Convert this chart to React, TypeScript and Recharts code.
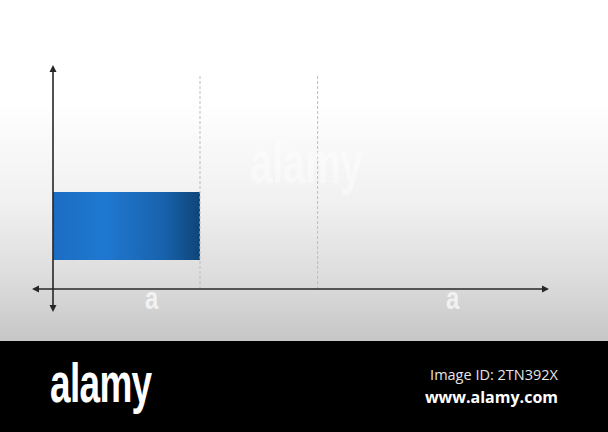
import React from 'react';
import { ComposedChart, Bar, XAxis, YAxis, ReferenceLine } from 'recharts';

// ---- data ----
const categories = ['A'];
const barValues = [30];
const gridValues = [30, 54];
const X_MAX = 100;

const data = categories.map((c, i) => ({ name: c, value: barValues[i] }));

// ---- layout ----
const W = 608;
const H = 341;
const MARGIN = { top: 75, right: 65, bottom: 52, left: 53 };
const PLOT_RIGHT = W - MARGIN.right;
const AXIS_COLOR = '#262626';

function AxesShape(props: any) {
  const { x1, y1, y2 } = props;
  const x = x1;
  const top = Math.min(y1, y2);
  const bottom = Math.max(y1, y2);
  const yTopTip = top - 10;
  const yBotTip = bottom + 23;
  const xLeftTip = x - 21;
  const xRightTip = PLOT_RIGHT + 6;
  const a = 7;
  const h = 3.5;
  return (
    <g>
      <line x1={x} y1={yTopTip + 4} x2={x} y2={yBotTip - 4} stroke={AXIS_COLOR} strokeWidth={1.6} />
      <polygon points={`${x},${yTopTip} ${x - h},${yTopTip + a} ${x + h},${yTopTip + a}`} fill={AXIS_COLOR} />
      <polygon points={`${x},${yBotTip} ${x - h},${yBotTip - a} ${x + h},${yBotTip - a}`} fill={AXIS_COLOR} />
      <line x1={xLeftTip + 4} y1={bottom} x2={xRightTip - 4} y2={bottom} stroke={AXIS_COLOR} strokeWidth={1.6} />
      <polygon points={`${xLeftTip},${bottom} ${xLeftTip + a},${bottom - h} ${xLeftTip + a},${bottom + h}`} fill={AXIS_COLOR} />
      <polygon points={`${xRightTip},${bottom} ${xRightTip - a},${bottom - h} ${xRightTip - a},${bottom + h}`} fill={AXIS_COLOR} />
    </g>
  );
}

const condensed: React.CSSProperties = {
  fontFamily: "'Liberation Sans', 'DejaVu Sans', sans-serif",
  fontWeight: 700,
  transformOrigin: 'left top',
  whiteSpace: 'nowrap',
};

export default function App() {
  return (
    <div style={{ position: 'absolute', left: 0, top: 0, width: 608, height: 432, overflow: 'hidden', fontFamily: "'DejaVu Sans', sans-serif" }}>
      <div
        style={{
          position: 'absolute',
          left: 0,
          top: 0,
          width: W,
          height: H,
          background: 'linear-gradient(to bottom, #ffffff 0px, #ffffff 100px, #f1f1f1 200px, #dcdcdc 280px, #c6c6c6 341px)',
        }}
      />
      <div style={{ position: 'absolute', left: 0, top: 0 }}>
        <ComposedChart width={W} height={H} data={data} layout="vertical" margin={MARGIN}>
          <defs>
            <linearGradient id="barGrad" x1="0" y1="0" x2="1" y2="0">
              <stop offset="0%" stopColor="#1b6dc2" />
              <stop offset="35%" stopColor="#1f78d0" />
              <stop offset="75%" stopColor="#1862ad" />
              <stop offset="100%" stopColor="#0f4578" />
            </linearGradient>
          </defs>
          <XAxis type="number" domain={[0, X_MAX]} hide />
          <YAxis type="category" dataKey="name" hide padding={{ top: 101, bottom: 13 }} />
          {gridValues.map((v) => (
            <ReferenceLine key={v} x={v} stroke="#bdbdbd" strokeDasharray="3 2" strokeWidth={1} />
          ))}
          <Bar dataKey="value" fill="url(#barGrad)" barSize={68} isAnimationActive={false} />
          <ReferenceLine x={0} shape={AxesShape} />
        </ComposedChart>
      </div>
      {/* faint watermark */}
      <div style={{ ...condensed, position: 'absolute', left: 250, top: 128, fontSize: 60, color: '#ffffff', opacity: 0.45, transform: 'scaleX(0.68)', letterSpacing: -1 }}>alamy</div>
      <div style={{ ...condensed, position: 'absolute', left: 145, top: 280, fontSize: 32, color: '#ffffff', opacity: 0.7, transform: 'scaleX(0.75)' }}>a</div>
      <div style={{ ...condensed, position: 'absolute', left: 446, top: 280, fontSize: 32, color: '#ffffff', opacity: 0.7, transform: 'scaleX(0.75)' }}>a</div>
      {/* bottom band */}
      <div style={{ position: 'absolute', left: 0, top: H, width: 608, height: 432 - H, background: '#000000' }}>
        <div style={{ ...condensed, position: 'absolute', left: 50, top: 9, fontSize: 56, color: '#ffffff', letterSpacing: -1, transform: 'scaleX(0.66)' }}>alamy</div>
        <div style={{ position: 'absolute', right: 50, top: 24, fontFamily: "'Open Sans', 'DejaVu Sans', sans-serif", fontSize: 14.5, color: '#e6e6e6' }}>Image ID: 2TN392X</div>
        <div style={{ position: 'absolute', right: 50, top: 45, fontFamily: "'Open Sans', 'DejaVu Sans', sans-serif", fontWeight: 700, fontSize: 16, color: '#ffffff' }}>www.alamy.com</div>
      </div>
    </div>
  );
}
